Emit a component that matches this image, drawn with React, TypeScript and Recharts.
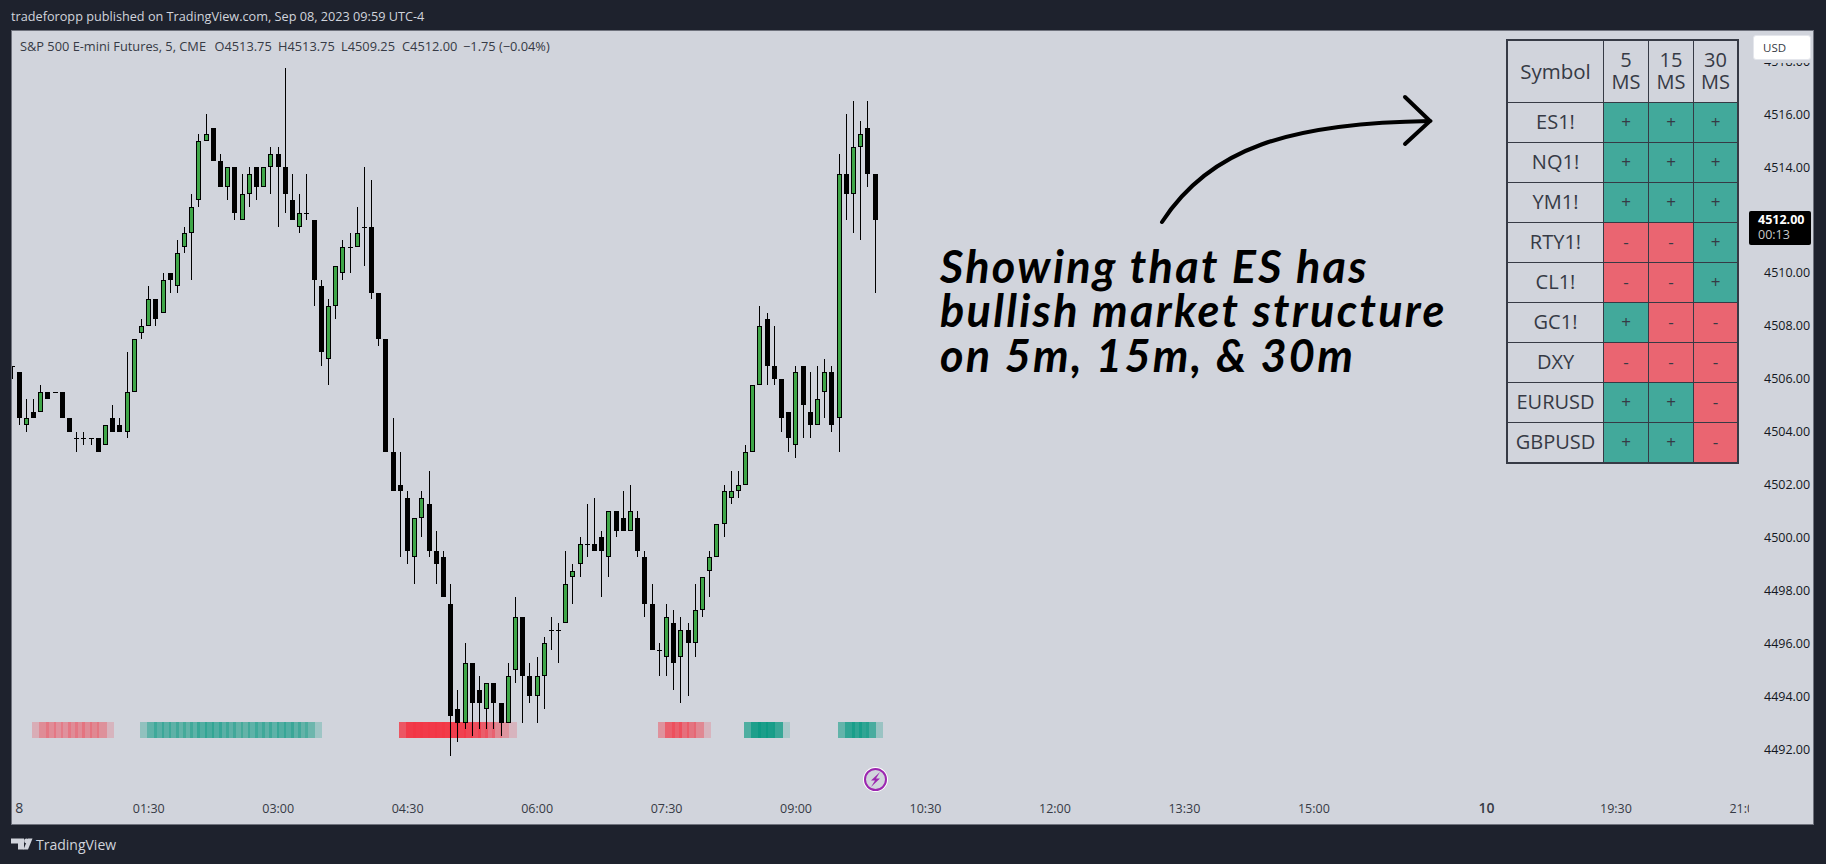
import React from 'react'
import { ComposedChart, Bar, XAxis, YAxis } from 'recharts'

// 5 minute ES bars (quarter point ticks)
const opens = [
  4506.5, 4506.25, 4504.25, 4504.75, 4504.75, 4505.5, 4505.5, 4505.5, 4504.5, 4503.75,
  4503.75, 4503.75, 4503.75, 4503.5, 4504.5, 4504.25, 4504, 4505.5, 4507.75, 4508,
  4509, 4508.5, 4510, 4509.5, 4511, 4511.5, 4512.75, 4515, 4515.5, 4514.25,
  4513.25, 4514, 4512, 4513, 4514, 4513.25, 4514, 4514.5, 4514, 4512.75,
  4511.75, 4512.25, 4512, 4509.5, 4506.75, 4508.75, 4510, 4511, 4511, 4511.75,
  4511.75, 4509.25, 4507.5, 4503.25, 4502, 4501.5, 4499.25, 4500.75, 4501.25, 4499.5,
  4499.25, 4497.5, 4493.5, 4493, 4495.25, 4494.25, 4493.5, 4494.5, 4493.75, 4493,
  4495, 4497, 4494.75, 4494, 4494.75, 4496.5, 4496.5, 4496.75, 4498.5, 4499,
  4499.75, 4499.75, 4500, 4499.25, 4501, 4500.75, 4500.25, 4500.75, 4499.25, 4497.5,
  4495.75, 4495.5, 4496.75, 4495.5, 4496.5, 4496, 4497.25, 4498.75, 4499.25, 4500.5,
  4501.5, 4501.75, 4502, 4503.25, 4505.75, 4508.25, 4506.5, 4506, 4504.75, 4503.5,
  4506.5, 4504.75, 4504.25, 4505.5, 4506.25, 4504.5, 4513.75, 4513, 4514.75, 4515.5, 4513.75,
]
const highs = [
  4506.5, 4506.25, 4505.25, 4505.25, 4505.75, 4505.5, 4505.5, 4505.5, 4504.5, 4504,
  4504, 4503.75, 4503.75, 4504.25, 4505, 4504.5, 4507, 4507.5, 4508.25, 4509.5,
  4509, 4510, 4510, 4511.25, 4511.75, 4513, 4515.25, 4516, 4515.5, 4514.5,
  4514, 4514, 4513.75, 4514, 4514, 4514, 4514.75, 4514.75, 4517.75, 4513.75,
  4513, 4513.75, 4512, 4509.75, 4509, 4510.25, 4511.25, 4511.5, 4512.5, 4514,
  4513.5, 4509.25, 4507.5, 4504.5, 4503.25, 4501.75, 4500.75, 4501.75, 4502.5, 4500.25,
  4499.5, 4498.25, 4494.25, 4496, 4495.25, 4494.75, 4494.5, 4494.5, 4493.75, 4495.25,
  4497.75, 4497, 4495.25, 4495.5, 4496.25, 4497, 4496.75, 4499.5, 4499, 4500,
  4501.25, 4501.5, 4500.25, 4501, 4501, 4501.75, 4502, 4501, 4499.5, 4498.25,
  4496, 4497.5, 4497.25, 4497, 4496.75, 4498.25, 4498.5, 4499.5, 4500.5, 4502,
  4502.5, 4502.5, 4503.5, 4505.75, 4508.75, 4508.5, 4508, 4506, 4504.75, 4506.5,
  4506.5, 4506.25, 4506.5, 4506.75, 4506.5, 4514.5, 4516, 4516.5, 4515.75, 4516.5, 4513.75,
]
const lows = [
  4506, 4504.25, 4504, 4504.5, 4504.75, 4505.25, 4505.5, 4504.5, 4504, 4503.25,
  4503.5, 4503.5, 4503.25, 4503.5, 4504, 4504, 4503.75, 4505.5, 4507.5, 4508,
  4508, 4508.5, 4509.25, 4509.25, 4510.75, 4509.75, 4512.5, 4515, 4514.25, 4513.25,
  4512.75, 4512, 4512, 4512.5, 4512.75, 4513.25, 4513, 4511.75, 4512.25, 4512,
  4511.5, 4512, 4508.75, 4506.5, 4505.75, 4508.25, 4509.75, 4510, 4511, 4510.25,
  4509, 4507.25, 4503.25, 4501.75, 4499.25, 4499, 4498.25, 4500, 4499.25, 4498.25,
  4497.75, 4491.75, 4492.25, 4492.75, 4492.5, 4492.75, 4492.75, 4492.75, 4492.5, 4493,
  4494.5, 4493, 4493.75, 4493, 4493.5, 4495.75, 4495.25, 4496.75, 4497.5, 4498.5,
  4499.25, 4499.5, 4497.75, 4498.5, 4500, 4500.25, 4500.25, 4499.25, 4497, 4495.75,
  4494.75, 4494.75, 4494.25, 4493.75, 4494, 4495.5, 4497, 4497.75, 4499.25, 4500,
  4501.25, 4501.5, 4502, 4503.25, 4505.75, 4505.75, 4505.75, 4504, 4503.25, 4503,
  4503.75, 4503.75, 4504.25, 4504.5, 4504, 4503.25, 4512, 4511.5, 4511.25, 4513.25, 4509.25,
]
const closes = [
  4506.5, 4504.5, 4504.5, 4504.5, 4505.5, 4505.25, 4505.5, 4504.5, 4504, 4503.75,
  4503.75, 4503.75, 4503.25, 4504.25, 4504, 4504, 4505.5, 4507.5, 4508, 4509,
  4508.25, 4509.75, 4509.75, 4510.75, 4511.5, 4512.5, 4515, 4515.25, 4514.25, 4513.25,
  4514, 4512.25, 4513, 4513.75, 4513.25, 4514, 4514.5, 4514, 4513, 4512,
  4512.25, 4512.25, 4509.75, 4507, 4508.75, 4510.25, 4511, 4511, 4511.5, 4511.75,
  4509.25, 4507.5, 4503.25, 4501.75, 4501.75, 4499.5, 4500.75, 4501.5, 4499.5, 4499,
  4497.75, 4493.25, 4493, 4495.25, 4493.75, 4493.75, 4494.5, 4493.75, 4493, 4494.75,
  4497, 4494.75, 4494, 4494.75, 4496, 4496.5, 4496.5, 4498.25, 4498.75, 4499.75,
  4499.75, 4499.5, 4499.5, 4501, 4500.25, 4500.25, 4501, 4499.5, 4497.5, 4495.75,
  4495.75, 4497, 4495.25, 4496.5, 4496, 4497.25, 4498.5, 4499.25, 4500.5, 4501.75,
  4501.75, 4502, 4503.25, 4505.75, 4508, 4506.5, 4506, 4504.5, 4503.75, 4506.25,
  4505, 4504.25, 4505.25, 4506.25, 4504.25, 4513.75, 4513, 4514.75, 4515.25, 4513.75, 4512,
]

// indicator strip under the candles: first bar, direction, strength per bar
const bandStarts = [3, 18, 54, 90, 102, 115]
const bandSides = ['bear', 'bull', 'bear', 'bear', 'bull', 'bull']
const bandStrengths = [
  [0.25, 0.28, 0.24, 0.24, 0.24, 0.28, 0.24, 0.28, 0.28, 0.2],
  [0.32, 0.36, 0.36, 0.36, 0.33, 0.33, 0.33, 0.36, 0.42, 0.42, 0.36, 0.36, 0.33, 0.33, 0.33, 0.36, 0.36, 0.33, 0.36, 0.42, 0.36, 0.33, 0.33, 0.25],
  [0.8, 0.85, 0.85, 0.85, 0.85, 0.85, 0.8, 0.75, 0.7, 0.65, 0.55, 0.45, 0.3, 0.25, 0.2],
  [0.42, 0.55, 0.4, 0.4, 0.35, 0.2],
  [0.65, 0.7, 0.7, 0.7, 0.2],
  [0.55, 0.55, 0.55, 0.55, 0.27],
]

const timeTicks = [1, 19, 37, 55, 73, 91, 109, 127, 145, 163, 181, 205, 223, 241]
const timeLabels = ['8', '01:30', '03:00', '04:30', '06:00', '07:30', '09:00', '10:30', '12:00', '13:30', '15:00', '10', '19:30', '21:00']
const priceTicks = [4492, 4494, 4496, 4498, 4500, 4502, 4504, 4506, 4508, 4510, 4512, 4514, 4516, 4518]

const symbols = ['ES1!', 'NQ1!', 'YM1!', 'RTY1!', 'CL1!', 'GC1!', 'DXY', 'EURUSD', 'GBPUSD']
const headers = ['5', '15', '30']
const structure5 = ['+', '+', '+', '-', '-', '+', '-', '+', '+']
const structure15 = ['+', '+', '+', '-', '-', '-', '-', '+', '+']
const structure30 = ['+', '+', '+', '+', '+', '-', '-', '-', '-']

const FONT = '"Open Sans", Lato, sans-serif'
const PANE = '#d1d4dc'
const DARK = '#1e222d'
const INK = '#363a45'
const TEAL = '#42a99b'
const ROSE = '#ea6571'

const rows = opens.map((open, i) => {
  const s = bandStarts.findIndex((b, k) => i >= b && i < b + bandStrengths[k].length)
  return {
    i,
    open,
    high: highs[i],
    low: lows[i],
    close: closes[i],
    bandSide: s >= 0 ? bandSides[s] : null,
    bandStrength: s >= 0 ? bandStrengths[s][i - bandStarts[s]] : 0,
  }
})

function Candle(props: any) {
  const { x, y, width, height, payload } = props
  const { open, high, low, close } = payload
  const span = high - low
  const yOf = (p: number) => (span > 0 ? y + (height * (high - p)) / span : y)
  const col = Math.floor(x + width / 2)
  const top = Math.round(yOf(Math.max(open, close)))
  const bottom = Math.round(yOf(Math.min(open, close)))
  const up = close > open
  const wickTop = Math.round(yOf(high))
  const wickBottom = Math.round(yOf(low))
  return (
    <g shapeRendering="crispEdges">
      <rect x={col} y={wickTop} width={1} height={Math.max(wickBottom - wickTop, 1)} fill="#000" />
      <rect x={col - 2} y={top} width={5} height={Math.max(bottom - top, 1)} fill="#000" />
      {up && bottom - top > 2 && <rect x={col - 1} y={top + 1} width={3} height={bottom - top - 2} fill="#3fa648" />}
    </g>
  )
}

function BandCell(props: any) {
  const { x, y, width, height, payload } = props
  if (!payload.bandSide) return null
  const col = Math.floor(x + width / 2)
  return (
    <rect
      x={col - 1}
      y={Math.round(y)}
      width={17}
      height={Math.round(height)}
      fill={payload.bandSide === 'bear' ? '#f23645' : '#089981'}
      fillOpacity={payload.bandStrength}
      shapeRendering="crispEdges"
    />
  )
}

function TimeTick(props: any) {
  const { x, y, payload, index } = props
  const label = timeLabels[index] ?? String(payload.value)
  const isDate = label.length < 3
  return (
    <text x={x} y={y + 4} textAnchor="middle" fontFamily={FONT} fontSize={isDate ? 14 : 12.5} fontWeight={label === '10' ? 600 : 400} fill={INK}>
      {label}
    </text>
  )
}

function Cell({ text, fill, size, last, right }: any) {
  return (
    <div style={{
      display: 'flex', alignItems: 'center', justifyContent: 'center', textAlign: 'center',
      background: fill ?? 'transparent', color: INK, fontSize: size, lineHeight: '22px', paddingBottom: 2,
      borderRight: right ? 'none' : `1px solid ${INK}`, borderBottom: last ? 'none' : `1px solid ${INK}`,
      boxSizing: 'border-box', whiteSpace: 'pre-line',
    }}>{text}</div>
  )
}

function StructureTable() {
  return (
    <div style={{
      position: 'absolute', left: 1506, top: 39, width: 233, height: 425, boxSizing: 'border-box',
      border: `2px solid ${INK}`, display: 'grid', fontFamily: FONT,
      gridTemplateColumns: '96px 45px 45px 43px', gridTemplateRows: `62px repeat(${symbols.length - 1}, 40px) 39px`,
    }}>
      <Cell text="Symbol" size={20.5} />
      {headers.map((h, c) => <Cell key={h} text={`${h}\nMS`} size={20} right={c === 2} />)}
      {symbols.map((s, r) => {
        const last = r === symbols.length - 1
        return (
          <React.Fragment key={s}>
            <Cell text={s} size={20} last={last} />
            {[structure5, structure15, structure30].map((col, c) => (
              <Cell key={c} text={col[r]} size={17} fill={col[r] === '+' ? TEAL : ROSE} last={last} right={c === 2} />
            ))}
          </React.Fragment>
        )
      })}
    </div>
  )
}

function Span({ left, top, children, style }: any) {
  return <div style={{ position: 'absolute', left, top, whiteSpace: 'pre', fontFamily: FONT, ...style }}>{children}</div>
}

export default function App() {
  return (
    <div style={{ position: 'absolute', left: 0, top: 0, width: 1826, height: 864, overflow: 'hidden', background: DARK }}>
      <Span left={11} top={7} style={{ fontSize: 12.7, lineHeight: '18px', color: PANE }}>
        tradeforopp published on TradingView.com, Sep 08, 2023 09:59 UTC-4
      </Span>

      <div style={{ position: 'absolute', left: 11, top: 30, width: 1803, height: 795, boxSizing: 'border-box', background: PANE, border: '1px solid #6f727d' }} />

      <div style={{ position: 'absolute', left: 0, top: 0 }}>
        <ComposedChart width={1826} height={864} data={rows} margin={{ top: 30, right: 12, bottom: 40, left: 12 }}>
          <XAxis
            type="number"
            dataKey="i"
            domain={[-0.014, 241.5]}
            allowDataOverflow
            ticks={timeTicks}
            interval={0}
            height={30}
            tickLine={false}
            axisLine={false}
            tick={<TimeTick />}
            tickMargin={9}
          />
          <XAxis xAxisId="bands" type="number" dataKey="i" domain={[-0.014, 241.5]} allowDataOverflow hide />
          <YAxis
            orientation="right"
            width={65}
            domain={[4490.302, 4519.187]}
            allowDataOverflow
            ticks={priceTicks}
            interval={0}
            tickLine={false}
            axisLine={false}
            tickMargin={9}
            tickFormatter={(v: number) => v.toFixed(2)}
            tick={{ fontFamily: FONT, fontSize: 12.5, fill: '#131722' }}
          />
          <Bar
            xAxisId="bands"
            dataKey={(d: any) => (d.bandSide ? [4492.39, 4493.01] : null)}
            barSize={5}
            shape={<BandCell />}
            isAnimationActive={false}
          />
          <Bar
            dataKey={(d: any) => [d.low, d.high]}
            barSize={5}
            shape={<Candle />}
            isAnimationActive={false}
          />
        </ComposedChart>
      </div>

      {/* covers: clipped time label and the axis corner */}
      <div style={{ position: 'absolute', left: 1749, top: 795, width: 64, height: 29, background: PANE }} />
      <div style={{ position: 'absolute', left: 1750, top: 31, width: 63, height: 32, background: PANE }} />
      <div style={{
        position: 'absolute', left: 1753, top: 35, width: 58, height: 25, boxSizing: 'border-box', background: '#fff',
        borderRadius: 3, border: '1px solid #e4e6ec', color: INK, fontFamily: FONT, fontSize: 11.5, lineHeight: '23px', paddingLeft: 9,
      }}>USD</div>

      <div style={{ position: 'absolute', left: 1749, top: 211, width: 62, height: 34, background: '#000', borderRadius: 2, fontFamily: FONT, fontSize: 12.5, lineHeight: '16px' }}>
        <div style={{ position: 'absolute', left: 9, top: 1, color: '#fff', fontWeight: 700 }}>4512.00</div>
        <div style={{ position: 'absolute', left: 9, top: 16, color: '#c8c8c8' }}>00:13</div>
      </div>

      <Span left={20} top={37} style={{ fontSize: 12.8, lineHeight: '18px', color: INK }}>S&amp;P 500 E-mini Futures, 5, CME</Span>
      <Span left={214.5} top={37} style={{ fontSize: 12.8, lineHeight: '18px', color: INK }}>O4513.75</Span>
      <Span left={278} top={37} style={{ fontSize: 12.8, lineHeight: '18px', color: INK }}>H4513.75</Span>
      <Span left={341} top={37} style={{ fontSize: 12.8, lineHeight: '18px', color: INK }}>L4509.25</Span>
      <Span left={402} top={37} style={{ fontSize: 12.8, lineHeight: '18px', color: INK }}>C4512.00</Span>
      <Span left={463} top={37} style={{ fontSize: 12.8, lineHeight: '18px', color: INK }}>−1.75 (−0.04%)</Span>

      <StructureTable />

      <svg width={1826} height={864} style={{ position: 'absolute', left: 0, top: 0, pointerEvents: 'none' }}>
        <path d="M1162 222 C1210 148 1290 123 1430 121" fill="none" stroke="#000" strokeWidth={4} strokeLinecap="round" />
        <path d="M1405 97 L1430 121 L1405 144" fill="none" stroke="#000" strokeWidth={4} strokeLinecap="round" strokeLinejoin="miter" />
        <text fontFamily="Lato, sans-serif" fontStyle="italic" fontWeight={700} fontSize={45} letterSpacing={2.3} fill="#000">
          <tspan x={940} y={283}>Showing that ES has</tspan>
          <tspan x={940} y={327}>bullish market structure</tspan>
          <tspan x={940} y={372}>on 5m, 15m, &amp; 30m</tspan>
        </text>
        <circle cx={875.5} cy={779.5} r={12.5} fill="#fff" />
        <circle cx={875.5} cy={779.5} r={10.5} fill={PANE} stroke="#9c27b0" strokeWidth={2} />
        <path d="M880 772 L871 780.5 L875 780.5 L871 787 L880 778.5 L876 778.5 Z" fill="#9c27b0" />
        <path d="M11 838.5 H24 V849.5 H18 V843.5 H11 Z" fill={PANE} />
        <circle cx={26.5} cy={841} r={2.4} fill={PANE} />
        <path d="M28 838.5 H32.5 L28 849.5 H23.5 Z" fill={PANE} />
      </svg>
      <Span left={36} top={835} style={{ fontSize: 14, lineHeight: '20px', color: PANE }}>TradingView</Span>
    </div>
  )
}
